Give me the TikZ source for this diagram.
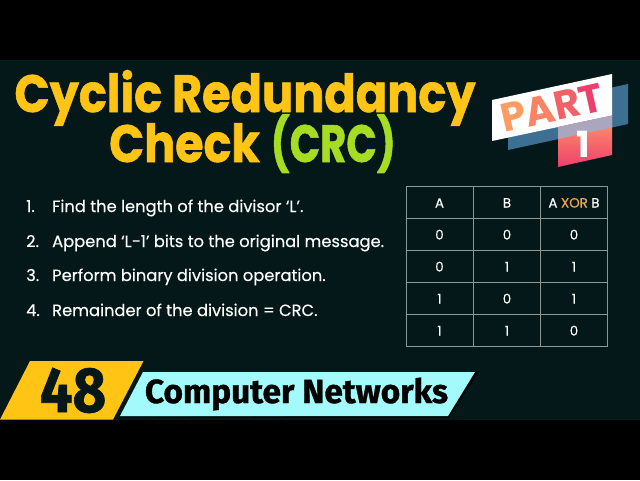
\documentclass[tikz,border=0pt]{standalone}
\usepackage{fontspec}
\setmainfont{Lato}
\newfontfamily\ttl{Poppins}[UprightFont=* Bold,FakeBold=1.2]
\newfontfamily\pop{Poppins}[UprightFont=* Bold]
\newfontfamily\body{Poppins}[FakeBold=0.25]
\newfontfamily\cond{Fira Sans}[UprightFont=* Bold,FakeBold=1]
\definecolor{bgc}{HTML}{04181A}
\definecolor{ylw}{HTML}{FFC414}
\definecolor{grn}{HTML}{A6DC22}
\definecolor{cyn}{HTML}{A2FAFB}
\definecolor{grid}{HTML}{8A9896}
\definecolor{xorc}{HTML}{F2A94E}
\definecolor{blu}{HTML}{3D6F92}
\definecolor{pnk}{HTML}{EE3F6C}
\definecolor{org}{HTML}{FF9A6A}
\definecolor{ovl}{HTML}{A9A6BE}
\tikzset{
 titletext/.style={font=\ttl\fontsize{50}{50}\selectfont,text=ylw,inner sep=0pt,anchor=base},
 item/.style={font=\body\fontsize{16.3}{18}\selectfont,text=white,inner sep=0pt,anchor=base west},
 cell/.style={font=\body\fontsize{13.3}{15}\selectfont,text=white,inner sep=0pt,anchor=base},
 gridline/.style={draw=grid,line width=0.9pt},
}
\begin{document}
\begin{tikzpicture}[x=1pt,y=-1pt]
\useasboundingbox (0,0) rectangle (640,480);
\fill[black] (0,0) rectangle (640,480);
\fill[bgc] (0,60) rectangle (640,420);
% title
\node[titletext,xscale=.925,yscale=1.05] (t1) at (245,112) {Cyclic Redundancy};
\node[titletext,xscale=.92,yscale=1.05,anchor=base west] (t2) at (109,162) {Check};
\node[titletext,xscale=.80,yscale=1.05,anchor=base east,text=grn] (t3) at (396,162) {(CRC)};
% badge
\fill[blu] (508,110) -- (628,84) -- (628,124) -- (508,150) -- cycle;
\fill[white] (492,100) -- (612,74) -- (612,115.5) -- (492,141) -- cycle;
\shade[top color=org,bottom color=pnk] (558,127) -- (612,115.5) -- (612,155) -- (558,167) -- cycle;
\fill[ovl] (558,127) -- (612,115.5) -- (612,127.5) -- (558,139) -- cycle;
\node[rotate=12.5,font=\pop\fontsize{40}{40}\selectfont,inner sep=0pt] (part) at (552,107.5)
 {\textcolor[HTML]{FF9C63}{P}\textcolor[HTML]{FB8265}{A}\textcolor[HTML]{F26068}{R}\textcolor[HTML]{EC3F6C}{T}};
\node[font=\pop\fontsize{36}{36}\selectfont,text=white,inner sep=0pt,anchor=base] (one) at (583,157) {1};
% list
\node[item] (n1) at (26,212) {1.};
\node[item] (i1) at (52,212) {Find the length of the divisor ‘L’.};
\node[item] (n2) at (26,247) {2.};
\node[item] (i2) at (52,247) {Append ‘L−1’ bits to the original message.};
\node[item] (n3) at (26,281) {3.};
\node[item] (i3) at (52,281) {Perform binary division operation.};
\node[item] (n4) at (26,316) {4.};
\node[item] (i4) at (52,316) {Remainder of the division = CRC.};
% table
\draw[gridline] (406,186) rectangle (607,346.5);
\foreach \x in {473,540} \draw[gridline] (\x,186) -- (\x,346.5);
\foreach \y in {218.5,250,282.5,314.5} \draw[gridline] (406,\y) -- (607,\y);
\node[cell] (h1) at (439.5,207.5) {A};
\node[cell] (h2) at (507,207.5) {B};
\node[cell] (h3) at (574,207.5) {A \textcolor{xorc}{XOR} B};
\foreach \y/\a/\b/\c [count=\r] in {239.5/0/0/0,271.5/0/1/1,303.5/1/0/1,335.5/1/1/0}{
 \node[cell] (a\r) at (439.5,\y) {\a};
 \node[cell] (b\r) at (507,\y) {\b};
 \node[cell] (c\r) at (574,\y) {\c};
}
% bottom band
\fill[ylw] (30,361) -- (143.5,361) -- (113,419.5) -- (0,419.5) -- cycle;
\fill[black] (121,417.5) -- (449,417.5) -- (479,371) -- (476,371) -- (448,415) -- cycle;
\fill[cyn] (143,372) -- (475,372) -- (448,416) -- (120,416) -- cycle;
\node[font=\cond\fontsize{58}{58}\selectfont,text=bgc,inner sep=0pt,anchor=base,yscale=1.1] (num) at (73,412) {48};
\node[font=\cond\fontsize{33.4}{34}\selectfont,text=black,inner sep=0pt,anchor=base] (cn) at (296.5,403) {Computer Networks};
\end{tikzpicture}
\end{document}
